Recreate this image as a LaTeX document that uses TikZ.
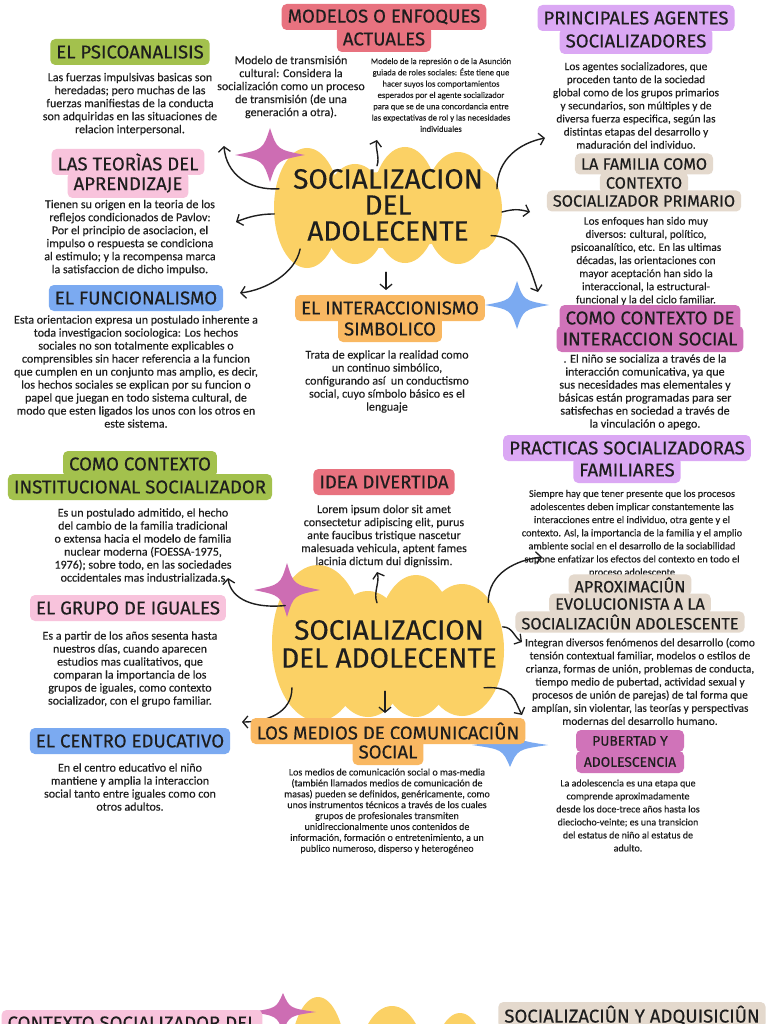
\documentclass[tikz,border=0pt]{standalone}
\usepackage{fontspec}
\setmainfont{Carlito}[FakeBold=0.2]
\newfontfamily\ttlfam[FakeBold=0.35]{Fira Sans}
\usetikzlibrary{arrows.meta,shapes.geometric,calc}
\definecolor{cgreen}{HTML}{A3C14D}
\definecolor{cred}{HTML}{E8727F}
\definecolor{clav}{HTML}{DBA8F4}
\definecolor{cbeige}{HTML}{E4D9CD}
\definecolor{cmag}{HTML}{D073B9}
\definecolor{cpink}{HTML}{F8C3DC}
\definecolor{cblue}{HTML}{7BAAF1}
\definecolor{corange}{HTML}{F9B862}
\definecolor{cyellow}{HTML}{FBD165}
\definecolor{cstarp}{HTML}{CD6DB3}
\definecolor{cstarb}{HTML}{7BAAF1}
\definecolor{ink}{HTML}{1E1E1E}
\tikzset{
 ttl/.style={font=\ttlfam\fontsize{18.6}{20}\selectfont, text=ink, rounded corners=5pt, inner xsep=6pt, inner ysep=3pt, minimum height=26pt},
 ttls/.style={ttl, font=\ttlfam\fontsize{16.3}{18}\selectfont, minimum height=21pt},
 ttlt/.style={ttl, font=\ttlfam\fontsize{13.8}{16}\selectfont, minimum height=22pt},
 body/.style={font=\fontsize{12}{13}\selectfont, text=ink, align=center, inner sep=0pt},
 bodys/.style={body, font=\fontsize{8.6}{11.3}\selectfont},
 bodym/.style={body, font=\fontsize{10}{10.9}\selectfont},
 bodyp/.style={body, font=\fontsize{10.3}{13.1}\selectfont},
 bodyq/.style={body, font=\fontsize{11.3}{13.1}\selectfont},
 bodyt/.style={body, font=\fontsize{10}{13}\selectfont},
 arr/.style={draw=ink, line width=1.4pt, line cap=round, -{Straight Barb[length=5pt,width=12pt,line width=1.3pt]}},
 cloudarea/.style={ellipse, inner sep=0pt},
 cloudtxt/.style={font=\ttlfam\fontsize{28}{26}\selectfont, align=center, text=ink, inner sep=0pt},
 star4/.pic={\fill[pic actions] (1,0) .. controls (0.2,0.2) .. (0,1) .. controls (-0.2,0.2) .. (-1,0) .. controls (-0.2,-0.2) .. (0,-1) .. controls (0.2,-0.2) .. (1,0) -- cycle;}
}
\begin{document}
\begin{tikzpicture}[x=1pt,y=-1pt]
\useasboundingbox (0,0) rectangle (768,1024);
\clip (0,0) rectangle (768,1024);
\fill[white] (0,0) rectangle (768,1024);
% ---------- cloud 1
\fill[cyellow] (307,208) ellipse [x radius=33, y radius=60];
\fill[cyellow] (355,214) ellipse [x radius=32, y radius=50];
\fill[cyellow] (405,205) ellipse [x radius=33, y radius=58];
\fill[cyellow] (458,208) ellipse [x radius=34, y radius=56];
\fill[cyellow] (480,210) ellipse [x radius=22, y radius=40];
\fill[cyellow] (388,210) ellipse [x radius=95, y radius=38];
\pic[fill=cstarp, xscale=35, yscale=27] at (270,155) {star4};
\pic[fill=cstarb, xscale=32, yscale=24] at (517,305) {star4};
\node[cloudarea, minimum width=228pt, minimum height=128pt] (cloud1) at (388,208) {};
\node[cloudtxt] (ct1) at (388,205) {SOCIALIZACION\\DEL\\ADOLECENTE};
% ---------- cloud 2
\fill[cyellow] (318,643) ellipse [x radius=46, y radius=78];
\fill[cyellow] (368,654) ellipse [x radius=40, y radius=63];
\fill[cyellow] (416,646) ellipse [x radius=40, y radius=71];
\fill[cyellow] (462,650) ellipse [x radius=42, y radius=66];
\fill[cyellow] (388,645) ellipse [x radius=100, y radius=45];
\pic[fill=cstarp, xscale=33, yscale=27] at (287,590) {star4};
\pic[fill=cstarb, xscale=38, yscale=22] at (510,745) {star4};
\node[cloudarea, minimum width=234pt, minimum height=156pt] (cloud2) at (388,643) {};
\node[cloudtxt, font=\ttlfam\fontsize{28}{28}\selectfont] (ct2) at (389,644) {SOCIALIZACION\\DEL ADOLECENTE};
% ---------- cloud 3 (cut)
\fill[cyellow] (318,1062) ellipse [x radius=28, y radius=65];
\fill[cyellow] (392,1068) ellipse [x radius=34, y radius=62];
\fill[cyellow] (460,1075) ellipse [x radius=28, y radius=62];
\pic[fill=cstarp, xscale=33, yscale=19] at (283,1012) {star4};
% ---------- arrow ends
\coordinate (e1) at (224,146);
\coordinate (e2) at (236,222);
\coordinate (e3) at (240,293);
\coordinate (e4) at (377,140);
\coordinate (e5) at (545,138);
\coordinate (e6) at (530,212);
\coordinate (e7) at (538,292);
\coordinate (e8) at (386,290);
\coordinate (b1) at (228,578);
\coordinate (b2) at (377,572);
\coordinate (b3) at (542,557);
\coordinate (b4) at (522,642);
\coordinate (b5) at (522,715);
\coordinate (b6) at (385,713);
\coordinate (b7) at (242,722);
\coordinate (s4) at ($(cloud1.north -| e4)+(0,22)$);
\coordinate (s2) at ($(cloud2.north -| b2)+(0,38)$);
\coordinate (s6) at ($(cloud2.south -| b6)+(0,-30)$);
% ---------- arrows section 1
\draw[arr] (cloud1.170) .. controls +(-30,2) and +(2,28) .. (e1);
\draw[arr] (cloud1.183) .. controls +(-15,0) and +(12,-5) .. (e2);
\draw[arr] (cloud1.205) .. controls +(-5,25) and +(25,-3) .. (e3);
\draw[arr] (s4) .. controls +(3,-8) and +(-2,8) .. (e4);
\draw[arr] (cloud1.10) .. controls +(0,-30) and +(-25,5) .. (e5);
\draw[arr] (cloud1.-2) .. controls +(12,-3) and +(-12,-3) .. (e6);
\draw[arr] (cloud1.-15) .. controls +(30,0) and +(-8,-25) .. (e7);
\draw[arr] (cloud1.south -| e8) -- (e8);
% ---------- arrows section 2
\draw[arr] (cloud2.160) .. controls +(-30,3) and +(3,22) .. (b1);
\draw[arr] (s2) .. controls +(-4,-10) and +(3,10) .. (b2);
\draw[arr] (cloud2.22) .. controls +(0,-30) and +(-25,3) .. (b3);
\draw[arr] (cloud2.8) .. controls +(10,0) and +(-8,-5) .. (b4);
\draw[arr] (cloud2.-25) .. controls +(30,-2) and +(-8,-15) .. (b5);
\draw[arr] (s6) -- (b6);
\draw[arr] (cloud2.205) .. controls +(0,25) and +(25,0) .. (b7);
% ---------- section 1 boxes
\node[ttl,fill=cgreen] (psi) at (130,52) {EL PSICOANALISIS};
\node[body] (psiT) at (130,104) {Las fuerzas impulsivas basicas son\\heredadas; pero muchas de las\\fuerzas manifiestas de la conducta\\son adquiridas en las situaciones de\\relacion interpersonal.};
\node[ttl,fill=cred] (mod1) at (384,17) {MODELOS O ENFOQUES};
\node[ttl,fill=cred] (mod2) at (384,39) {ACTUALES};
\node[body] (modA) at (291,87) {Modelo de transmisión\\cultural: Considera la\\socialización como un proceso\\de transmisión (de una\\generación a otra).};
\node[bodys] (modB) at (441,95) {Modelo de la represión o de la Asunción\\guiada de roles sociales: Éste tiene que\\hacer suyos los comportamientos\\esperados por el agente socializador\\para que se de una concordancia entre\\las expectativas de rol y las necesidades\\individuales};
\node[ttl,fill=clav] (pri1) at (636,18) {PRINCIPALES AGENTES};
\node[ttl,fill=clav] (pri2) at (636,41) {SOCIALIZADORES};
\node[bodyq] (priT) at (636,105.5) {Los agentes socializadores, que\\proceden tanto de la sociedad\\global como de los grupos primarios\\y secundarios, son múltiples y de\\diversa fuerza especifica, según las\\distintas etapas del desarrollo y\\maduración del individuo.};
\node[ttls,fill=cbeige] (fam1) at (644,164) {LA FAMILIA COMO};
\node[ttls,fill=cbeige] (fam2) at (644,183) {CONTEXTO};
\node[ttls,fill=cbeige] (fam3) at (644,201) {SOCIALIZADOR PRIMARIO};
\node[bodyq] (famT) at (646,261) {Los enfoques han sido muy\\diversos: cultural, político,\\psicoanalítico, etc. En las ultimas\\décadas, las orientaciones con\\mayor aceptación han sido la\\interaccional, la estructural-\\funcional y la del ciclo familiar.};
\node[ttl,fill=cmag,minimum width=178pt] (int1) at (650,318) {COMO CONTEXTO DE};
\node[ttl,fill=cmag,minimum width=178pt] (int2) at (650,339) {INTERACCION SOCIAL};
\node[body] (intT) at (645,392) {. El niño se socializa a través de la\\interacción comunicativa, ya que\\sus necesidades mas elementales y\\básicas están programadas para ser\\satisfechas en sociedad a través de\\la vinculación o apego.};
\node[ttl,fill=cpink] (teo1) at (128,162) {LAS TEORÌAS DEL};
\node[ttl,fill=cpink] (teo2) at (128,185) {APRENDIZAJE};
\node[body] (teoT) at (130,237.5) {Tienen su origen en la teoria de los\\reflejos condicionados de Pavlov:\\Por el principio de asociacion, el\\impulso o respuesta se condiciona\\al estimulo; y la recompensa marca\\la satisfaccion de dicho impulso.};
\node[ttl,fill=cblue] (fun) at (136,298) {EL FUNCIONALISMO};
\node[body] (funT) at (136,371.5) {Esta orientacion expresa un postulado inherente a\\toda investigacion sociologica: Los hechos\\sociales no son totalmente explicables o\\comprensibles sin hacer referencia a la funcion\\que cumplen en un conjunto mas amplio, es decir,\\los hechos sociales se explican por su funcion o\\papel que juegan en todo sistema cultural, de\\modo que esten ligados los unos con los otros en\\este sistema.};
\node[ttl,fill=corange] (sim1) at (390,308) {EL INTERACCIONISMO};
\node[ttl,fill=corange] (sim2) at (390,329) {SIMBOLICO};
\node[body] (simT) at (387,381.5) {Trata de explicar la realidad como\\un continuo simbólico,\\configurando así\ \ un conductismo\\social, cuyo símbolo básico es el\\lenguaje};
% ---------- section 2 boxes
\node[ttl,fill=cgreen] (ins1) at (140,464) {COMO CONTEXTO};
\node[ttl,fill=cgreen] (ins2) at (140,487) {INSTITUCIONAL SOCIALIZADOR};
\node[body] (insT) at (143,545) {Es un postulado admitido, el hecho\\del cambio de la familia tradicional\\o extensa hacia el modelo de familia\\nuclear moderna (FOESSA-1975,\\1976); sobre todo, en las sociedades\\occidentales mas industrializada.s};
\node[ttl,fill=cred] (ide) at (384,482) {IDEA DIVERTIDA};
\node[body] (ideT) at (384,536) {Lorem ipsum dolor sit amet\\consectetur adipiscing elit, purus\\ante faucibus tristique nascetur\\malesuada vehicula, aptent fames\\lacinia dictum dui dignissim.};
\node[ttl,fill=clav] (pra1) at (627,448) {PRACTICAS SOCIALIZADORAS};
\node[ttl,fill=clav] (pra2) at (627,470) {FAMILIARES};
\node[bodyp] (praT) at (632,533.5) {Siempre hay que tener presente que los procesos\\adolescentes deben implicar constantemente las\\interacciones entre el individuo, otra gente y el\\contexto. Asl, la importancia de la familia y el amplio\\ambiente social en el desarrollo de la sociabilidad\\supone enfatizar los efectos del contexto en todo el\\proceso adolescente};
\node[ttls,fill=cbeige] (apr1) at (630,585) {APROXIMACIÛN};
\node[ttls,fill=cbeige] (apr2) at (630,604) {EVOLUCIONISTA A LA};
\node[ttls,fill=cbeige] (apr3) at (630,622) {SOCIALIZACIÛN ADOLESCENTE};
\node[bodyq] (aprT) at (640,681.5) {Integran diversos fenómenos del desarrollo (como\\tensión contextual familiar, modelos o estilos de\\crianza, formas de unión, problemas de conducta,\\tiempo medio de pubertad, actividad sexual y\\procesos de unión de parejas) de tal forma que\\amplían, sin violentar, las teorías y perspectivas\\modernas del desarrollo humano.};
\node[ttlt,fill=cmag,minimum width=108pt] (pub1) at (630,741) {PUBERTAD Y};
\node[ttlt,fill=cmag,minimum width=108pt] (pub2) at (630,762) {ADOLESCENCIA};
\node[bodyt] (pubT) at (628,815.5) {La adolescencia es una etapa que\\comprende aproximadamente\\desde los doce-trece años hasta los\\dieciocho-veinte; es una transicion\\del estatus de niño al estatus de\\adulto.};
\node[ttl,fill=cpink] (igu) at (128,608) {EL GRUPO DE IGUALES};
\node[body] (iguT) at (130,669) {Es a partir de los años sesenta hasta\\nuestros días, cuando aparecen\\estudios mas cualitativos, que\\comparan la importancia de los\\grupos de iguales, como contexto\\socializador, con el grupo familiar.};
\node[ttl,fill=cblue] (edu) at (130,741) {EL CENTRO EDUCATIVO};
\node[body] (eduT) at (130,787) {En el centro educativo el niño\\mantiene y amplia la interaccion\\social tanto entre iguales como con\\otros adultos.};
\node[ttl,fill=corange] (med1) at (388,731) {LOS MEDIOS DE COMUNICACIÛN};
\node[ttl,fill=corange] (med2) at (388,752) {SOCIAL};
\node[bodym] (medT) at (387,811) {Los medios de comunicación social o mas-media\\(también llamados medios de comunicación de\\masas) pueden se definidos, genéricamente, como\\unos instrumentos técnicos a través de los cuales\\grupos de profesionales transmiten\\unidireccionalmente unos contenidos de\\información, formación o entretenimiento, a un\\publico numeroso, disperso y heterogéneo};
% ---------- section 3 (cut off)
\node[ttl,fill=cpink] (ctx) at (132,1023) {CONTEXTO SOCIALIZADOR DEL};
\node[ttl,fill=cbeige] (adq) at (632,1015) {SOCIALIZACIÛN Y ADQUISICIÛN};
\end{tikzpicture}
\end{document}
